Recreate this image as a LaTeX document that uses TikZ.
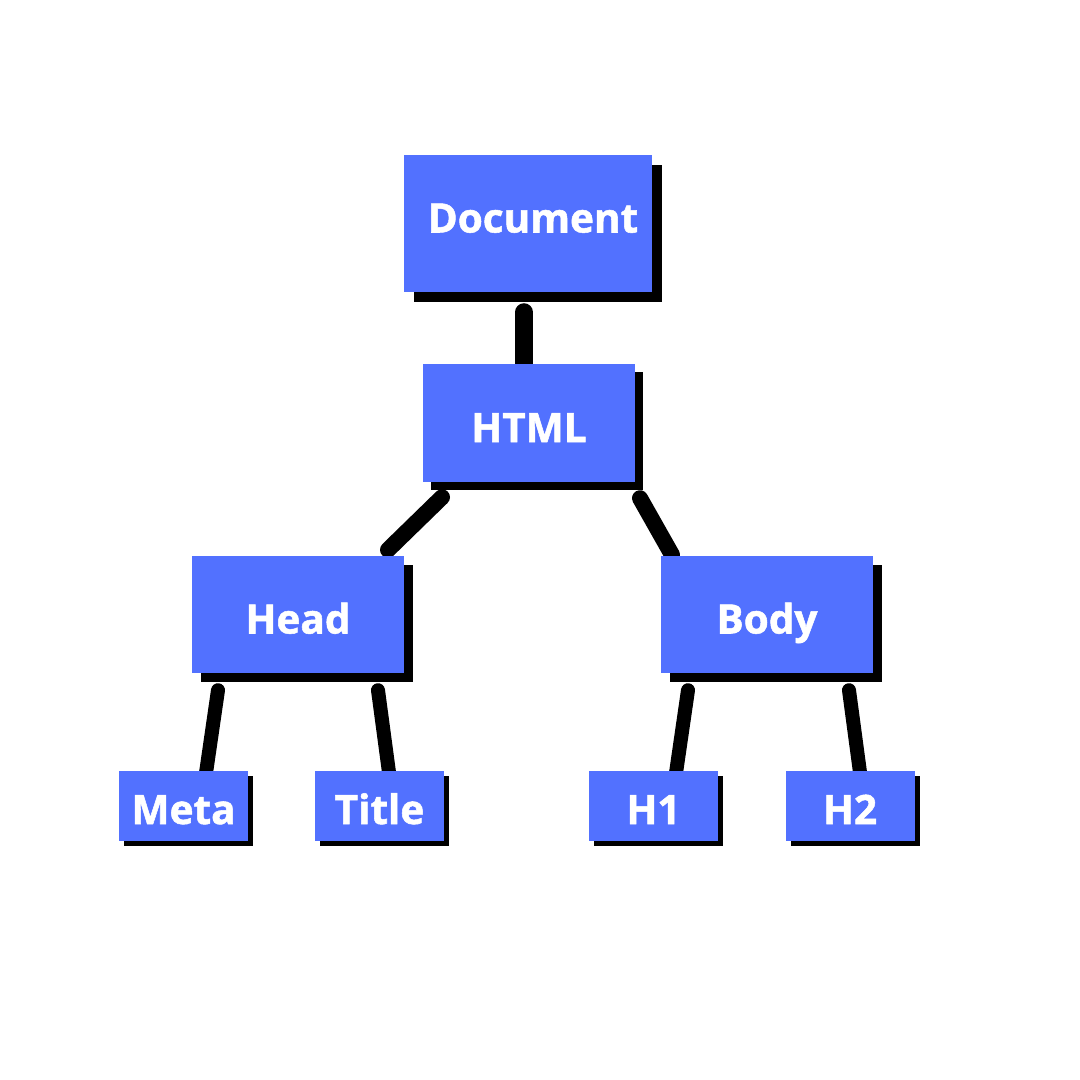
\documentclass[tikz,border=0pt]{standalone}
\usepackage{fontspec}
\setmainfont{Open Sans}[BoldFeatures={FakeBold=1.3}]
\usetikzlibrary{shadows,backgrounds}
\definecolor{boxblue}{HTML}{5271FF}
\tikzset{
  box/.style={fill=boxblue, text=white, inner sep=0pt,
    font=\bfseries\fontsize{40.5}{48}\selectfont, align=center},
  shad/.style={drop shadow={shadow xshift=#1, shadow yshift=-#1, fill=black, opacity=1}},
  big/.style={box, minimum width=212pt, minimum height=117pt, text height=38pt, text depth=0pt},
  small/.style={box, shad=5pt, minimum width=129pt, minimum height=70pt, text height=36pt, text depth=0pt},
  conn/.style={line width=#1, line cap=round, draw=black},
}
\begin{document}
\begin{tikzpicture}[x=1pt, y=-1pt]
\useasboundingbox (0,0) rectangle (1080,1080);

\node[box, shad=10pt, minimum width=248pt, minimum height=137pt, text height=18pt, text depth=0pt] (doc) at (528,223.5) {\kern10pt Document};
\node[big, shad=8pt, minimum height=118pt] (html) at (529,423) {HTML};
\node[big, shad=8.5pt] (head) at (298,614.5) {Head};
\node[big, shad=9pt] (body) at (767,614.5) {Body};
\node[small] (meta) at (183.5,806) {Meta};
\node[small] (title) at (379.5,806) {Title};
\node[small] (h1) at (653.5,806) {H1};
\node[small] (h2) at (850,806) {H2};

\begin{scope}[on background layer]
\fill[white] (0,0) rectangle (1080,1080);
\draw[conn=18pt] ([xshift=-4pt,yshift=-20pt]doc.south) -- ([xshift=-5pt,yshift=-2pt]html.north);
\draw[conn=16pt] ([xshift=-87pt,yshift=-15pt]html.south) -- ([xshift=90pt,yshift=6pt]head.north);
\draw[conn=16pt] ([xshift=111pt,yshift=-16pt]html.south) -- ([xshift=-95pt,yshift=1pt]body.north);
\draw[conn=14pt] ([xshift=-80pt,yshift=-17pt]head.south) -- ([xshift=21.5pt,yshift=-9pt]meta.north);
\draw[conn=14pt] ([xshift=80pt,yshift=-17pt]head.south) -- ([xshift=10.5pt,yshift=-9pt]title.north);
\draw[conn=14pt] ([xshift=-79pt,yshift=-17pt]body.south) -- ([xshift=21.5pt,yshift=-9pt]h1.north);
\draw[conn=14pt] ([xshift=82pt,yshift=-17pt]body.south) -- ([xshift=11pt,yshift=-9pt]h2.north);
\end{scope}
\end{tikzpicture}
\end{document}
